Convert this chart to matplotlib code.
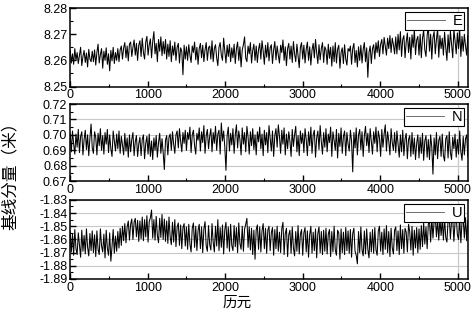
import numpy as np
import matplotlib
matplotlib.use("Agg")
from matplotlib import pyplot as plt
from matplotlib.ticker import MultipleLocator

# baseline components, one reading every 15 epochs,
# stored as offsets in 0.1 mm from a reference value
E_REF, N_REF, U_REF = 8.2600, 0.6900, -1.8600
STEP = 15

e_off = [40, -10, 25, -15, 45, 0, 30, -12, 20, 50, -20, 15, 38, -8, 28, -25, 42, 5, -5, 35,
         -5, 40, -18, 30, 62, -10, 22, 45, -30, 35, 0, 48, -15, 25, -40, 38, -2, 50, -12, 30,
         0, 45, -5, 40, 55, 5, 48, 68, 10, 55, -2, 62, 70, 15, 50, 78, 20, 65, 0, 58,
         75, 15, 85, 30, 5, 70, 92, 20, 60, 82, 10, 72, 110, 25, 65, -5, 80, 35, 90, 18,
         72, 25, 80, 5, 62, 15, 75, -5, 55, 20, 70, 0, 50, 65, -10, 48, 35, -55, 58, 5,
         52, 0, 60, 20, -8, 55, 30, 70, 2, 50, -15, 45, 65, 10, 58, -5, 40, 68, 0, 48,
         55, 5, 75, -5, 45, 60, 10, -20, 50, 68, 20, 0, 85, 35, -10, 58, 15, 62, -5, 48,
         10, 62, -12, 45, 70, 0, 52, -25, 40, 60, 90, 8, -5, 55, 25, 68, -10, 38, 62, 0,
         55, -8, 42, 65, 5, 75, 35, -15, 58, 12, 68, -2, 48, 60, -12, 40, 72, 2, 55, 20,
         -10, 58, 30, 78, 0, 52, -20, 45, 65, 5, 55, -8, 72, 25, -5, 62, 15, -28, 50, 68,
         5, 58, -10, 42, 70, 0, 52, -18, 40, 65, 10, 80, 30, -12, 60, 2, 45, 68, -8, 52,
         40, -15, 62, 8, 50, -22, 55, -5, 68, -10, 42, 58, -30, 30, 48, -12, 60, 5, -18, 45,
         35, 55, -15, 45, 65, -8, 38, -25, 52, 0, 58, -10, 42, 68, -5, 48, -65, 30, 55, -12,
         45, 60, 5, 68, 30, 75, 15, 62, 80, 25, 88, 55, 20, 85, 45, 95, 30, 85, 60, 25,
         90, 25, 100, 40, 110, 15, 80, 95, 10, 70, 105, 30, 88, 5, 98, 50, 118, 22, 78, 92,
         20, 100, 10, 85, 115, 40, 15, 95, 132, 35, 100, 5, 88, 110, 25, 80, 120, 12, 95, 45,
         85, 20, 108, 50, 0, 98, 30, 112, 60, 10, 118, 75, 25, 105, 45, 115, 15, 92, 35, 100,
         55, 20, 95]

n_off = [110, -10, 125, 40, -25, 105, 20, 135, -15, 90, 120, -30, 70, 130, 5, 100, -35, 80, 170, 15,
         -20, 120, 85, -30, 110, 30, 140, 0, 95, -25, 115, 40, 135, -15, 100, 10, -40, 125, 60, -5,
         105, 10, 125, -20, 90, 35, -30, 110, -5, 80, -45, 100, -10, 70, 115, -35, 55, 95, -40, 40,
         85, -35, 70, 100, -55, 45, 90, -25, 105, -40, 60, -60, 80, 0, 95, -45, 50, 110, -20, 75,
         -15, -125, 65, 95, -30, 85, 105, 0, 120, 40, -20, 100, 125, 15, 140, 60, -10, 115, 45, 130,
         0, 115, 70, 150, -15, 100, 130, 30, -25, 110, 65, 145, -5, 120, 50, 160, -20, 95, 135, 10,
         90, 140, -10, 115, 45, 155, 0, 105, 130, -25, 177, 60, 125, 20, -130, 95, 150, -5, 110, 35,
         140, -20, 100, 165, 15, 125, 70, -30, 145, 40, 115, -10, 155, 85, -25, 120, 30, 140, 5, 100,
         -30, 120, 55, 150, 10, 105, -35, 130, 35, 115, -15, 160, 75, -5, 125, -40, 95, 140, 20, 165,
         90, -20, 130, 40, 145, -30, 105, 10, 120, 60, -40, 135, 25, 100, 155, -10, 95, -35, 125, 45,
         110, -15, 140, 70, -35, 120, 30, 150, -20, 100, 130, -45, 80, 125, 5, 160, 55, -25, 115, 20,
         140, -10, 105, 50, 150, -40, 120, 65, 0, 135, -50, 110, 25, 145, -20, 90, 125, -35, 115, 40,
         -5, 130, 60, -140, 115, 15, 145, -30, 100, 135, 5, 120, -40, 95, 155, 30, 110, -15, 140, 55,
         -25, 120, 45, 150, -10, 125, 80, -40, 135, 20, 105, 165, -5, 120, 60, -30, 140, 50, 0, 115,
         -15, 125, 40, -45, 100, -10, 130, -35, 75, 110, -55, 70, 95, -40, 115, -25, 80, -60, 45, 100,
         -50, 85, -20, 110, -65, 60, 95, -45, 70, -60, 100, 20, -155, 80, -30, 115, -55, 65, 90, -40,
         105, -35, -70, 75, 95, -50, 120, -15, -60, 85, 10, 105, -45, 70, -25, 125, -10, -65, 90, -30,
         75, 100, -40]

u_off = [60, -95, 40, -120, 75, -70, -115, 50, -40, -135, 70, -90, 30, -110, 80, -60, -125, 45, -85, 65,
         -100, 35, -130, 65, -75, -115, 80, -50, -95, 40, -140, 70, -65, -120, 50, -165, -55, 75, -105, 25,
         -90, 60, -65, 85, -45, 100, -10, 120, -25, 95, 140, -5, 115, 155, 0, 130, 160, 20, 145, -15,
         140, 5, 170, -10, 150, 20, 180, -20, 135, 165, 223, 10, 150, -5, 175, 30, -25, 160, 15, 190,
         0, 155, -15, 140, -30, 170, 20, -40, 130, -20, 150, -55, 95, 125, -45, 110, -70, 90, 120, -50,
         95, -75, 115, -35, -95, 85, 125, -60, 100, -85, 70, 115, -70, 95, -100, 80, 135, -50, -90, 105,
         -40, -80, 120, -20, -95, 100, -50, 150, -85, 90, -60, 110, -110, 75, 130, -65, 95, -90, 115, -45,
         -85, 105, -55, 90, -100, 125, -30, -75, 100, -90, 80, 115, 160, -60, 95, -80, 85, -115, 70, -150,
         75, 110, -75, 95, -95, 65, 120, -70, 85, -105, 70, 100, -85, 50, 90, -120, 75, -70, 100, -90,
         55, -100, 80, 130, -115, 45, 85, -130, 35, 70, -105, 95, -65, -125, 60, -90, 105, -110, 40, 75,
         -120, 50, 90, -95, 65, -135, 35, 100, -105, 55, -85, 80, -140, 45, 95, -100, 60, -115, 70, -90,
         85, -110, 40, 75, -130, 60, -95, 100, -80, -120, 70, 50, -150, 80, -100, 55, -115, 90, -85, 65,
         -105, 75, -135, 45, 85, -90, -120, -185, 60, -100, 95, -80, -125, 65, -110, 80, -75, -140, 55, -95,
         75, -105, 90, -80, -120, 65, 100, -90, 55, -115, 80, -75, 105, -100, 60, -130, 85, -65, -110, 70,
         95, -85, 65, -115, 110, -70, 75, -105, 85, 55, -95, 115, 60, -80, 100, -120, 70, -65, 90, -100,
         80, -75, 105, -55, 125, -35, 95, -70, 115, 145, -20, 165, 10, 135, 170, 20, 150, -5, 160, 30,
         150, -5, 165, 15, -20, 145, 170, 5, 140, 160, -15, 130, 175, 35, 0, 160, -25, 135, 155, 10,
         165, -10, 145]

names = ["E", "N", "U"]
refs = [E_REF, N_REF, U_REF]
offsets = [e_off, n_off, u_off]
ylims = [(8.25, 8.28), (0.67, 0.72), (-1.89, -1.83)]

plt.rcParams["font.family"] = ["Liberation Sans", "DejaVu Sans"]
cjk = ["Noto Sans CJK SC", "DejaVu Sans"]

fig = plt.figure(figsize=(4.74, 3.24), dpi=100)
boxes = [(0.975, 0.733), (0.679, 0.441), (0.383, 0.139)]
left, right = 0.148, 0.987

for off, ref, name, ylim, (top, bottom) in zip(offsets, refs, names, ylims, boxes):
    vals = ref + np.array(off) / 1e4
    epochs = np.arange(len(vals)) * STEP
    ax = fig.add_axes([left, bottom, right - left, top - bottom])
    if name != "E":
        ax.grid(axis="y", color="#c8c8c8", linewidth=0.8, zorder=0)
    ax.axvline(5000, color="#c8c8c8", linewidth=0.9, zorder=0)
    ax.plot(epochs, vals, color="black", linewidth=0.75, label=name, zorder=2)
    ax.set_xlim(0, 5130)
    ax.set_ylim(*ylim)
    ax.xaxis.set_major_locator(MultipleLocator(1000))
    ax.xaxis.set_minor_locator(MultipleLocator(500))
    ax.yaxis.set_major_locator(MultipleLocator(0.01))
    ax.yaxis.set_minor_locator(MultipleLocator(0.005))
    ax.yaxis.set_major_formatter(plt.FormatStrFormatter("%.2f"))
    ax.tick_params(which="both", direction="in", top=False, right=False,
                   labelsize=9, pad=2)
    ax.tick_params(which="major", length=4, width=1)
    ax.tick_params(which="minor", length=2.5, width=0.8)
    for sp in ax.spines.values():
        sp.set_linewidth(1.1)
    leg = ax.legend(loc="upper right", fontsize=10.5, frameon=True,
                    fancybox=False, edgecolor="black", framealpha=1,
                    handlelength=2.6, borderpad=0.15, handletextpad=0.5,
                    borderaxespad=0.25)
    leg.get_frame().set_linewidth(0.8)
    for h in leg.get_lines():
        h.set_linewidth(0.6)
        h.set_color("#555555")

fig.text(0.022, 0.47, "基线分量（米）", rotation=90, ha="center", va="center",
         fontsize=12, family=cjk)
fig.text(0.5, 0.065, "历元", ha="center", va="center", fontsize=10.5, family=cjk)

fig.savefig("out.png", dpi=100)
